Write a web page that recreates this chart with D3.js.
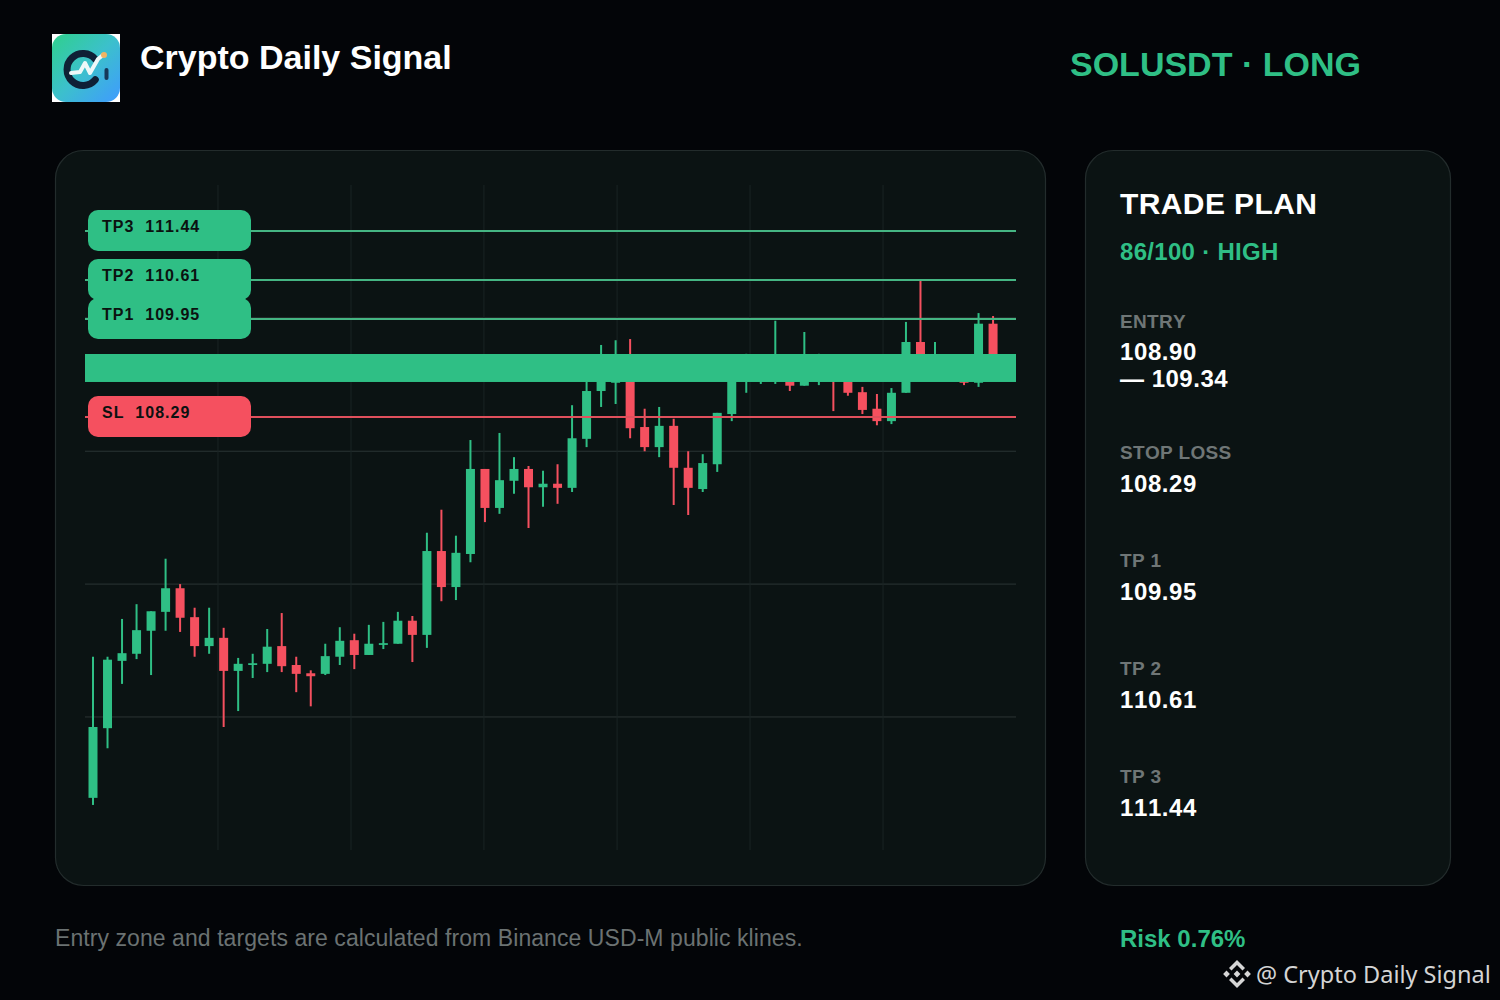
<!DOCTYPE html>
<html>
<head>
<meta charset="utf-8">
<script src="https://cdn.jsdelivr.net/npm/d3@7/dist/d3.min.js"></script>
<style>
html,body{margin:0;padding:0;background:#030508;overflow:hidden}
svg{display:block}
text{white-space:pre;font-kerning:none}
</style>
</head>
<body>
<svg id="chart" width="1500" height="1000"></svg>
<script>
const opens  = [101.84,103.02,104.16,104.28,104.67,104.99,105.39,104.90,104.41,104.55,103.99,104.09,104.11,104.41,104.09,103.95,103.94,104.23,104.51,104.26,104.43,104.45,104.84,104.60,106.02,105.41,105.97,107.41,106.75,107.21,107.41,107.10,107.16,107.09,107.92,108.73,108.87,109.09,108.12,107.78,108.14,107.43,107.07,107.49,108.34,109.00,109.00,109.00,109.09,108.82,109.00,109.26,109.00,108.71,108.43,108.22,108.70,109.56,109.10,109.05,109.20,108.87,109.87];
const highs  = [104.23,104.23,104.87,105.12,105.00,105.89,105.46,105.06,105.06,104.72,104.21,104.28,104.70,104.97,104.23,104.00,104.45,104.73,104.62,104.77,104.82,104.99,104.92,106.33,106.72,106.28,107.90,107.41,108.02,107.61,107.46,107.38,107.49,108.49,109.00,109.51,109.59,109.61,108.43,108.46,108.26,107.71,107.66,108.36,109.09,109.36,109.30,109.92,109.26,109.73,109.36,109.30,109.10,108.80,108.68,108.78,109.90,110.61,109.56,109.30,109.30,110.05,110.00];
const lows   = [101.72,102.68,103.77,104.19,103.92,104.67,104.65,104.23,104.28,103.04,103.31,103.87,103.97,103.97,103.63,103.39,103.92,104.09,104.02,104.26,104.36,104.45,104.14,104.38,105.17,105.19,105.83,106.51,106.65,106.99,106.41,106.77,106.82,107.02,107.78,108.46,108.51,107.93,107.71,107.61,106.80,106.63,107.02,107.36,108.22,108.70,108.85,108.85,108.73,108.82,108.83,108.39,108.65,108.34,108.15,108.17,108.70,109.20,109.00,108.95,108.83,108.80,109.10];
const closes = [103.04,104.18,104.29,104.68,105.00,105.39,104.89,104.41,104.55,103.99,104.11,104.12,104.40,104.07,103.94,103.90,104.24,104.50,104.26,104.45,104.46,104.84,104.60,106.02,105.41,105.99,107.41,106.75,107.22,107.41,107.10,107.16,107.09,107.93,108.73,109.09,109.09,108.10,107.78,108.14,107.43,107.09,107.51,108.36,109.09,109.26,109.26,109.26,108.82,109.07,109.26,108.95,108.70,108.41,108.22,108.70,109.56,109.26,109.26,109.20,108.87,109.87,109.26];

const priceGrid = [109.97,107.71,105.46,103.21];
const indexGrid = [8.61,17.77,26.93,36.10,45.26,54.42];
const zoneLow = 108.90, zoneHigh = 109.34;
const levelNames = ["TP3","TP2","TP1","SL"];
const levelValues = [111.44,110.61,109.95,108.29];
const planLabels = ["STOP LOSS","TP 1","TP 2","TP 3"];
const planValues = ["108.29","109.95","110.61","111.44"];

const GREEN="#2fbf85", RED="#f5505f", SANS="'Liberation Sans',Arial,sans-serif";
const svg=d3.select("#chart");
const defs=svg.append("defs");
const lg=defs.append("linearGradient").attr("id","logoGrad").attr("x1","0").attr("y1","0").attr("x2","1").attr("y2","1");
lg.append("stop").attr("offset","0").attr("stop-color","#2fd08c");
lg.append("stop").attr("offset","0.5").attr("stop-color","#3cc0cc");
lg.append("stop").attr("offset","1").attr("stop-color","#3f9bff");

svg.append("rect").attr("width",1500).attr("height",1000).attr("fill","#030508");

// logo
const logo=svg.append("g");
logo.append("rect").attr("x",52).attr("y",34).attr("width",68).attr("height",68).attr("fill","#fff");
logo.append("rect").attr("x",52).attr("y",34).attr("width",68).attr("height",68).attr("rx",14).attr("fill","url(#logoGrad)");
logo.append("path").attr("d","M95.3 59.2A16 16 0 1 0 95.3 79.8").attr("fill","none").attr("stroke","#0f2036").attr("stroke-width",7).attr("stroke-linecap","round");
logo.append("path").attr("d","M71 73L80 72L85 63L90 73L98 59L103 55").attr("fill","none").attr("stroke","#eef8f8").attr("stroke-width",4).attr("stroke-linejoin","round").attr("stroke-linecap","round");
logo.append("circle").attr("cx",104).attr("cy",55).attr("r",3).attr("fill","#f2b463");
logo.append("rect").attr("x",104.5).attr("y",68).attr("width",4).attr("height",12).attr("rx",2).attr("fill","#16385a");

function txt(x,y,s,size,fill,weight,family,extra){
  const t=svg.append("text").attr("x",x).attr("y",y).attr("font-size",size).attr("fill",fill)
    .attr("font-weight",weight||"bold").attr("font-family",family||SANS).text(s);
  if(extra) t.attr("letter-spacing",extra);
  return t;
}
txt(140,69,"Crypto Daily Signal",34,"#ffffff");
txt(1070,76,"SOLUSDT · LONG",34,GREEN);

// panels
[[55,150,991,736],[1085,150,366,736]].forEach(p=>{
  svg.append("rect").attr("x",p[0]+.5).attr("y",p[1]+.5).attr("width",p[2]-1).attr("height",p[3]-1)
    .attr("rx",28).attr("fill","#0b1313").attr("stroke","#232c2c").attr("stroke-width",1.2);
});

// scales
const y=d3.scaleLinear().domain([112.219,100.957]).range([185,850]);
const x=d3.scaleLinear().domain([-0.551,63.58]).range([85,1016]);
const data=opens.map((o,i)=>({i,o,h:highs[i],l:lows[i],c:closes[i]}));

const grid=svg.append("g");
grid.selectAll("line.h").data(priceGrid).join("line").attr("class","h")
  .attr("x1",x.range()[0]).attr("x2",x.range()[1]).attr("y1",d=>y(d)).attr("y2",d=>y(d))
  .attr("stroke","#2b3434").attr("stroke-width",1);
grid.selectAll("line.v").data(indexGrid).join("line").attr("class","v")
  .attr("x1",d=>x(d)).attr("x2",d=>x(d)).attr("y1",185).attr("y2",850)
  .attr("stroke","#1a2424").attr("stroke-width",1);

// candles
const candles=svg.append("g");
const color=d=>d.c>=d.o?GREEN:RED;
candles.selectAll("line").data(data).join("line")
  .attr("x1",d=>x(d.i)).attr("x2",d=>x(d.i)).attr("y1",d=>y(d.h)).attr("y2",d=>y(d.l))
  .attr("stroke",color).attr("stroke-width",2);
candles.selectAll("rect").data(data).join("rect")
  .attr("x",d=>x(d.i)-4.5).attr("width",9)
  .attr("y",d=>y(Math.max(d.o,d.c))).attr("height",d=>Math.max(1.5,Math.abs(y(d.o)-y(d.c))))
  .attr("fill",color);

// levels
const levels=levelNames.map((n,i)=>({n,v:levelValues[i]}));
const lvColor=d=>d.n==="SL"?RED:GREEN;
svg.append("g").selectAll("line").data(levels).join("line")
  .attr("x1",85).attr("x2",1016).attr("y1",d=>y(d.v)).attr("y2",d=>y(d.v))
  .attr("stroke",d=>d.n==="SL"?"#e0505c":"#45b583").attr("stroke-width",2);

// entry zone
svg.append("rect").attr("x",85).attr("width",931).attr("y",y(zoneHigh)-1).attr("height",y(zoneLow)-y(zoneHigh)+2).attr("fill",GREEN);

// level badges
const badges=svg.append("g");
badges.selectAll("rect").data(levels).join("rect")
  .attr("x",88).attr("width",163).attr("y",d=>y(d.v)-21).attr("height",41).attr("rx",10).attr("fill",lvColor);
badges.selectAll("text").data(levels).join("text")
  .attr("x",102).attr("y",d=>y(d.v)+1).attr("font-size",16).attr("font-weight","bold").attr("font-family",SANS)
  .attr("letter-spacing",1).attr("fill","#0b1210").text(d=>d.n+"  "+d.v.toFixed(2));

// plan
txt(1120,214,"TRADE PLAN",30,"#ffffff",null,null,0.4);
txt(1120,260,"86/100 · HIGH",24,GREEN,null,null,0.3);
const MUTED="#6f7676";
txt(1120,328,"ENTRY",19,MUTED,null,null,0.3);
txt(1120,360,zoneLow.toFixed(2),24,"#ffffff",null,null,0.6);
txt(1120,387,"— "+zoneHigh.toFixed(2),24,"#ffffff",null,null,0.5);
planLabels.forEach((l,i)=>{
  const by=[459,567,675,783][i];
  txt(1120,by,l,19,MUTED,null,null,0.3);
  txt(1120,by+33,planValues[i],24,"#ffffff",null,null,0.6);
});

// footer
txt(55,946,"Entry zone and targets are calculated from Binance USD-M public klines.",23,"#6b7272","normal",null,0.07);
txt(1120,947,"Risk 0.76%",24,GREEN);

// watermark
const wm=svg.append("g").attr("transform","translate(1237,974)").attr("fill","#d6d6d6");
const dm=(cx,cy,r)=>`M${cx-r} ${cy}L${cx} ${cy-r}L${cx+r} ${cy}L${cx} ${cy+r}Z`;
wm.append("path").attr("d",dm(0,0,3.4)+dm(-10.5,0,3.4)+dm(10.5,0,3.4)+
  "M0 -14L8 -6L5.5 -3.5L0 -9L-5.5 -3.5L-8 -6Z M0 14L8 6L5.5 3.5L0 9L-5.5 3.5L-8 6Z");
txt(1256,983,"@ Crypto Daily Signal",23.5,"#d4d4d4","normal","'Noto Sans',sans-serif");
</script>
</body>
</html>
